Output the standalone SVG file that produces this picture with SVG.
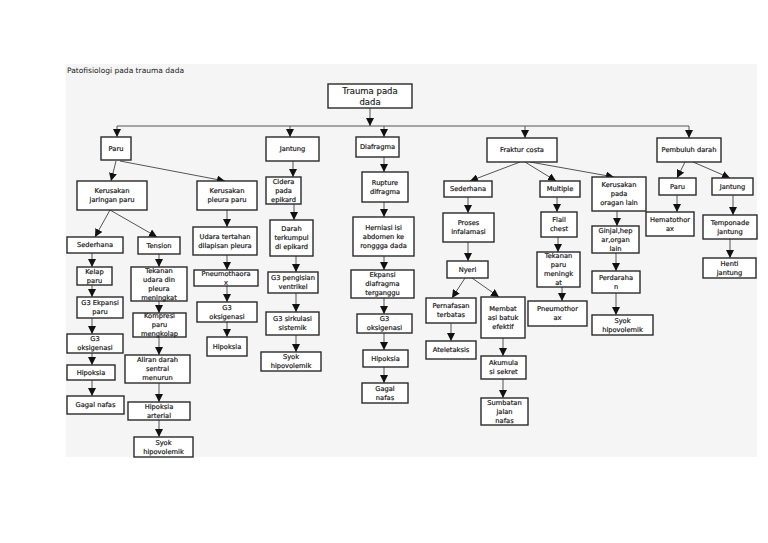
<svg xmlns="http://www.w3.org/2000/svg" width="768" height="543" viewBox="0 0 768 543">
<style>
.bx{fill:#ffffff;stroke:#2a2a2a;stroke-width:1.4}
.t{font-family:"DejaVu Sans",Verdana,sans-serif;font-size:6.7px;fill:#1a1a1a;stroke:#1a1a1a;stroke-width:0.2;text-anchor:middle}
.tb{font-family:"DejaVu Sans",Verdana,sans-serif;font-size:8.5px;fill:#1a1a1a;stroke:#1a1a1a;stroke-width:0.15;text-anchor:middle}
.ttl{font-family:"DejaVu Sans",Verdana,sans-serif;font-size:7.5px;fill:#222}
.c line,.c polyline{stroke:#555;stroke-width:1;fill:none}
.c line{marker-end:url(#ah)}
</style>
<defs>
<marker id="ah" markerUnits="userSpaceOnUse" markerWidth="8" markerHeight="8" refX="8" refY="4" orient="auto">
<path d="M0,0 L8,4 L0,8 z" fill="#111"/>
</marker>
</defs>
<rect x="0" y="0" width="768" height="543" fill="#ffffff"/>
<rect x="66" y="64" width="691" height="393" fill="#f5f5f5"/>
<text class="ttl" x="67" y="73">Patofisiologi pada trauma dada</text>

<g class="c" id="connectors">
<polyline points="117,126 689,126"/>
<line x1="370" y1="108" x2="370" y2="126"/>
<line x1="117" y1="126" x2="117" y2="137"/>
<line x1="290" y1="126" x2="290" y2="137"/>
<line x1="384" y1="126" x2="384" y2="137"/>
<line x1="525" y1="126" x2="525" y2="138"/>
<line x1="689" y1="126" x2="689" y2="138"/>
<line x1="116" y1="161" x2="111" y2="181"/>
<line x1="120" y1="161" x2="225" y2="181"/>
<line x1="293" y1="161" x2="293" y2="177"/>
<line x1="384" y1="157" x2="384" y2="172"/>
<line x1="520" y1="162" x2="470" y2="181"/>
<line x1="525" y1="162" x2="556" y2="181"/>
<line x1="530" y1="162" x2="614" y2="177"/>
<line x1="685" y1="162" x2="677" y2="178"/>
<line x1="693" y1="162" x2="730" y2="178"/>
<line x1="110" y1="210" x2="95" y2="237"/>
<line x1="110" y1="210" x2="157" y2="237"/>
<line x1="92" y1="253" x2="92" y2="267"/>
<line x1="92" y1="285" x2="92" y2="297"/>
<line x1="92" y1="318" x2="92" y2="334"/>
<line x1="92" y1="353" x2="92" y2="365"/>
<line x1="92" y1="380" x2="92" y2="396"/>
<line x1="159" y1="254" x2="159" y2="267"/>
<line x1="159" y1="301" x2="159" y2="313"/>
<line x1="159" y1="337" x2="159" y2="355"/>
<line x1="159" y1="383" x2="159" y2="402"/>
<line x1="159" y1="420" x2="159" y2="437"/>
<line x1="227" y1="210" x2="227" y2="227"/>
<line x1="227" y1="255" x2="227" y2="270"/>
<line x1="227" y1="286" x2="227" y2="302"/>
<line x1="227" y1="322" x2="227" y2="337"/>
<line x1="294" y1="204" x2="294" y2="220"/>
<line x1="296" y1="256" x2="296" y2="272"/>
<line x1="296" y1="293" x2="296" y2="312"/>
<line x1="296" y1="335" x2="296" y2="352"/>
<line x1="384" y1="202" x2="384" y2="217"/>
<line x1="384" y1="256" x2="384" y2="270"/>
<line x1="384" y1="298" x2="384" y2="314"/>
<line x1="384" y1="333" x2="384" y2="350"/>
<line x1="384" y1="367" x2="384" y2="383"/>
<line x1="468" y1="197" x2="468" y2="213"/>
<line x1="468" y1="242" x2="468" y2="261"/>
<line x1="465" y1="278" x2="452" y2="298"/>
<line x1="472" y1="278" x2="499" y2="297"/>
<line x1="451" y1="323" x2="451" y2="341"/>
<line x1="503" y1="338" x2="503" y2="356"/>
<line x1="503" y1="379" x2="503" y2="398"/>
<line x1="557" y1="197" x2="557" y2="212"/>
<line x1="558" y1="237" x2="558" y2="252"/>
<line x1="562" y1="287" x2="562" y2="301"/>
<line x1="617" y1="211" x2="617" y2="226"/>
<line x1="616" y1="253" x2="616" y2="271"/>
<line x1="616" y1="293" x2="616" y2="315"/>
<line x1="677" y1="195" x2="677" y2="212"/>
<line x1="733" y1="195" x2="733" y2="215"/>
<line x1="730" y1="239" x2="730" y2="258"/>
</g>

<g id="n_trauma"><rect class="bx" x="328" y="84" width="84" height="24"/><text class="tb"><tspan x="370" y="93.5">Trauma pada</tspan><tspan x="370" y="104.5">dada</tspan></text></g>
<g id="n_paru"><rect class="bx" x="101" y="137" width="30" height="23"/><text class="t"><tspan x="116" y="150.8">Paru</tspan></text></g>
<g id="n_jantung"><rect class="bx" x="266" y="137" width="53" height="24"/><text class="t"><tspan x="292.5" y="151.3">Jantung</tspan></text></g>
<g id="n_diafragma"><rect class="bx" x="356" y="137" width="43" height="20"/><text class="t"><tspan x="377.5" y="149.3">Diafragma</tspan></text></g>
<g id="n_fraktur"><rect class="bx" x="487" y="138" width="70" height="24"/><text class="t"><tspan x="522" y="152.3">Fraktur costa</tspan></text></g>
<g id="n_pembuluh"><rect class="bx" x="657" y="138" width="64" height="24"/><text class="t"><tspan x="689" y="152.3">Pembuluh darah</tspan></text></g>
<g id="n_kjp"><rect class="bx" x="77" y="181" width="70" height="29"/><text class="t"><tspan x="112" y="193.3">Kerusakan</tspan><tspan x="112" y="202.3">jaringan paru</tspan></text></g>
<g id="n_kpp"><rect class="bx" x="197" y="181" width="60" height="29"/><text class="t"><tspan x="227" y="193.3">Kerusakan</tspan><tspan x="227" y="202.3">pleura paru</tspan></text></g>
<g id="n_cidera"><rect class="bx" x="266" y="177" width="35" height="27"/><text class="t"><tspan x="283.5" y="183.8">Cidera</tspan><tspan x="283.5" y="192.8">pada</tspan><tspan x="283.5" y="201.8">epikard</tspan></text></g>
<g id="n_rupture"><rect class="bx" x="362" y="172" width="46" height="30"/><text class="t"><tspan x="385" y="184.8">Rupture</tspan><tspan x="385" y="193.8">difragma</tspan></text></g>
<g id="n_fsed"><rect class="bx" x="444" y="181" width="48" height="16"/><text class="t"><tspan x="468" y="191.3">Sederhana</tspan></text></g>
<g id="n_mult"><rect class="bx" x="540" y="181" width="40" height="16"/><text class="t"><tspan x="560" y="191.3">Multiple</tspan></text></g>
<g id="n_kpol"><rect class="bx" x="592" y="177" width="54" height="34"/><text class="t"><tspan x="619" y="187.3">Kerusakan</tspan><tspan x="619" y="196.3">pada</tspan><tspan x="619" y="205.3">oragan lain</tspan></text></g>
<g id="n_pparu"><rect class="bx" x="659" y="178" width="37" height="17"/><text class="t"><tspan x="677.5" y="188.8">Paru</tspan></text></g>
<g id="n_pjant"><rect class="bx" x="712" y="178" width="41" height="17"/><text class="t"><tspan x="732.5" y="188.8">Jantung</tspan></text></g>
<g id="n_sed1"><rect class="bx" x="67" y="237" width="56" height="16"/><text class="t"><tspan x="95" y="247.3">Sederhana</tspan></text></g>
<g id="n_tension"><rect class="bx" x="138" y="237" width="42" height="17"/><text class="t"><tspan x="159" y="247.8">Tension</tspan></text></g>
<g id="n_kelap"><rect class="bx" x="77" y="267" width="35" height="18"/><text class="t"><tspan x="94.5" y="273.8">Kelap</tspan><tspan x="94.5" y="282.8">paru</tspan></text></g>
<g id="n_g3ek"><rect class="bx" x="77" y="297" width="46" height="21"/><text class="t"><tspan x="100" y="305.3">G3 Ekpansi</tspan><tspan x="100" y="314.3">paru</tspan></text></g>
<g id="n_g3ok1"><rect class="bx" x="67" y="334" width="56" height="19"/><text class="t"><tspan x="95" y="341.3">G3</tspan><tspan x="95" y="350.3">oksigenasi</tspan></text></g>
<g id="n_hip1"><rect class="bx" x="67" y="365" width="48" height="15"/><text class="t"><tspan x="91" y="374.8">Hipoksia</tspan></text></g>
<g id="n_gagal1"><rect class="bx" x="67" y="396" width="57" height="18"/><text class="t"><tspan x="95.5" y="407.3">Gagal nafas</tspan></text></g>
<g id="n_tekanan"><rect class="bx" x="131" y="267" width="56" height="34"/><text class="t"><tspan x="159" y="272.8">Tekanan</tspan><tspan x="159" y="281.8">udara din</tspan><tspan x="159" y="290.8">pleura</tspan><tspan x="159" y="299.8">meningkat</tspan></text></g>
<g id="n_kompresi"><rect class="bx" x="133" y="313" width="53" height="24"/><text class="t"><tspan x="159.5" y="318.3">Kompresi</tspan><tspan x="159.5" y="327.3">paru</tspan><tspan x="159.5" y="336.3">mengkolap</tspan></text></g>
<g id="n_aliran"><rect class="bx" x="125" y="355" width="65" height="28"/><text class="t"><tspan x="157.5" y="362.3">Aliran darah</tspan><tspan x="157.5" y="371.3">sentral</tspan><tspan x="157.5" y="380.3">menurun</tspan></text></g>
<g id="n_hiparter"><rect class="bx" x="128" y="402" width="62" height="18"/><text class="t"><tspan x="159" y="408.8">Hipoksia</tspan><tspan x="159" y="417.8">arterial</tspan></text></g>
<g id="n_syok1"><rect class="bx" x="134" y="437" width="59" height="20"/><text class="t"><tspan x="163.5" y="444.8">Syok</tspan><tspan x="163.5" y="453.8">hipovolemik</tspan></text></g>
<g id="n_udara"><rect class="bx" x="193" y="227" width="64" height="28"/><text class="t"><tspan x="225" y="238.8">Udara tertahan</tspan><tspan x="225" y="247.8">dilapisan pleura</tspan></text></g>
<g id="n_pneumo1"><rect class="bx" x="194" y="270" width="64" height="16"/><text class="t"><tspan x="226" y="275.8">Pneumothaora</tspan><tspan x="226" y="284.8">x</tspan></text></g>
<g id="n_g3ok2"><rect class="bx" x="197" y="302" width="60" height="20"/><text class="t"><tspan x="227" y="309.8">G3</tspan><tspan x="227" y="318.8">oksigenasi</tspan></text></g>
<g id="n_hip2"><rect class="bx" x="207" y="337" width="40" height="19"/><text class="t"><tspan x="227" y="348.8">Hipoksia</tspan></text></g>
<g id="n_darah"><rect class="bx" x="270" y="220" width="43" height="36"/><text class="t"><tspan x="291.5" y="231.3">Darah</tspan><tspan x="291.5" y="240.3">terkumpul</tspan><tspan x="291.5" y="249.3">di epikard</tspan></text></g>
<g id="n_g3peng"><rect class="bx" x="268" y="272" width="50" height="21"/><text class="t"><tspan x="293" y="280.3">G3 pengisian</tspan><tspan x="293" y="289.3">ventrikel</tspan></text></g>
<g id="n_g3sirk"><rect class="bx" x="266" y="312" width="53" height="23"/><text class="t"><tspan x="292.5" y="321.3">G3 sirkulasi</tspan><tspan x="292.5" y="330.3">sistemik</tspan></text></g>
<g id="n_syok2"><rect class="bx" x="261" y="352" width="60" height="19"/><text class="t"><tspan x="291" y="359.3">Syok</tspan><tspan x="291" y="368.3">hipovolemik</tspan></text></g>
<g id="n_hern"><rect class="bx" x="353" y="217" width="61" height="39"/><text class="t"><tspan x="383.5" y="229.8">Herniasi isi</tspan><tspan x="383.5" y="238.8">abdomen ke</tspan><tspan x="383.5" y="247.8">ronggga dada</tspan></text></g>
<g id="n_ekdiaf"><rect class="bx" x="351" y="270" width="63" height="28"/><text class="t"><tspan x="382.5" y="277.3">Ekpansi</tspan><tspan x="382.5" y="286.3">diafragma</tspan><tspan x="382.5" y="295.3">terganggu</tspan></text></g>
<g id="n_g3ok3"><rect class="bx" x="357" y="314" width="55" height="19"/><text class="t"><tspan x="384.5" y="321.3">G3</tspan><tspan x="384.5" y="330.3">oksigenasi</tspan></text></g>
<g id="n_hip3"><rect class="bx" x="363" y="350" width="45" height="17"/><text class="t"><tspan x="385.5" y="360.8">Hipoksia</tspan></text></g>
<g id="n_gagal2"><rect class="bx" x="362" y="383" width="46" height="20"/><text class="t"><tspan x="385" y="390.8">Gagal</tspan><tspan x="385" y="399.8">nafas</tspan></text></g>
<g id="n_proses"><rect class="bx" x="443" y="213" width="51" height="29"/><text class="t"><tspan x="468.5" y="225.3">Proses</tspan><tspan x="468.5" y="234.3">infalamasi</tspan></text></g>
<g id="n_nyeri"><rect class="bx" x="447" y="261" width="41" height="17"/><text class="t"><tspan x="467.5" y="271.8">Nyeri</tspan></text></g>
<g id="n_pernaf"><rect class="bx" x="426" y="298" width="50" height="25"/><text class="t"><tspan x="451" y="308.3">Pernafasan</tspan><tspan x="451" y="317.3">terbatas</tspan></text></g>
<g id="n_membat"><rect class="bx" x="481" y="297" width="44" height="41"/><text class="t"><tspan x="503" y="310.8">Membat</tspan><tspan x="503" y="319.8">asi batuk</tspan><tspan x="503" y="328.8">efektif</tspan></text></g>
<g id="n_atel"><rect class="bx" x="426" y="341" width="50" height="18"/><text class="t"><tspan x="451" y="352.3">Ateletaksis</tspan></text></g>
<g id="n_akum"><rect class="bx" x="481" y="356" width="45" height="23"/><text class="t"><tspan x="503.5" y="365.3">Akumula</tspan><tspan x="503.5" y="374.3">si sekret</tspan></text></g>
<g id="n_sumbat"><rect class="bx" x="481" y="398" width="47" height="27"/><text class="t"><tspan x="504.5" y="404.8">Sumbatan</tspan><tspan x="504.5" y="413.8">jalan</tspan><tspan x="504.5" y="422.8">nafas</tspan></text></g>
<g id="n_flail"><rect class="bx" x="541" y="212" width="36" height="25"/><text class="t"><tspan x="559" y="222.3">Flail</tspan><tspan x="559" y="231.3">chest</tspan></text></g>
<g id="n_tekparu"><rect class="bx" x="537" y="252" width="43" height="35"/><text class="t"><tspan x="558.5" y="258.3">Tekanan</tspan><tspan x="558.5" y="267.3">paru</tspan><tspan x="558.5" y="276.3">meningk</tspan><tspan x="558.5" y="285.3">at</tspan></text></g>
<g id="n_pneumo2"><rect class="bx" x="528" y="301" width="59" height="25"/><text class="t"><tspan x="557.5" y="311.3">Pneumothor</tspan><tspan x="557.5" y="320.3">ax</tspan></text></g>
<g id="n_ginjal"><rect class="bx" x="592" y="226" width="47" height="27"/><text class="t"><tspan x="615.5" y="232.8">Ginjal,hep</tspan><tspan x="615.5" y="241.8">ar,organ</tspan><tspan x="615.5" y="250.8">lain</tspan></text></g>
<g id="n_perdar"><rect class="bx" x="592" y="271" width="48" height="22"/><text class="t"><tspan x="616" y="279.8">Perdaraha</tspan><tspan x="616" y="288.8">n</tspan></text></g>
<g id="n_syok3"><rect class="bx" x="592" y="315" width="61" height="20"/><text class="t"><tspan x="622.5" y="322.8">Syok</tspan><tspan x="622.5" y="331.8">hipovolemik</tspan></text></g>
<g id="n_hemato"><rect class="bx" x="646" y="212" width="48" height="24"/><text class="t"><tspan x="670" y="221.8">Hematothor</tspan><tspan x="670" y="230.8">ax</tspan></text></g>
<g id="n_tempo"><rect class="bx" x="703" y="215" width="54" height="24"/><text class="t"><tspan x="730" y="224.8">Temponade</tspan><tspan x="730" y="233.8">jantung</tspan></text></g>
<g id="n_henti"><rect class="bx" x="703" y="258" width="53" height="20"/><text class="t"><tspan x="729.5" y="265.8">Henti</tspan><tspan x="729.5" y="274.8">jantung</tspan></text></g>
</svg>
